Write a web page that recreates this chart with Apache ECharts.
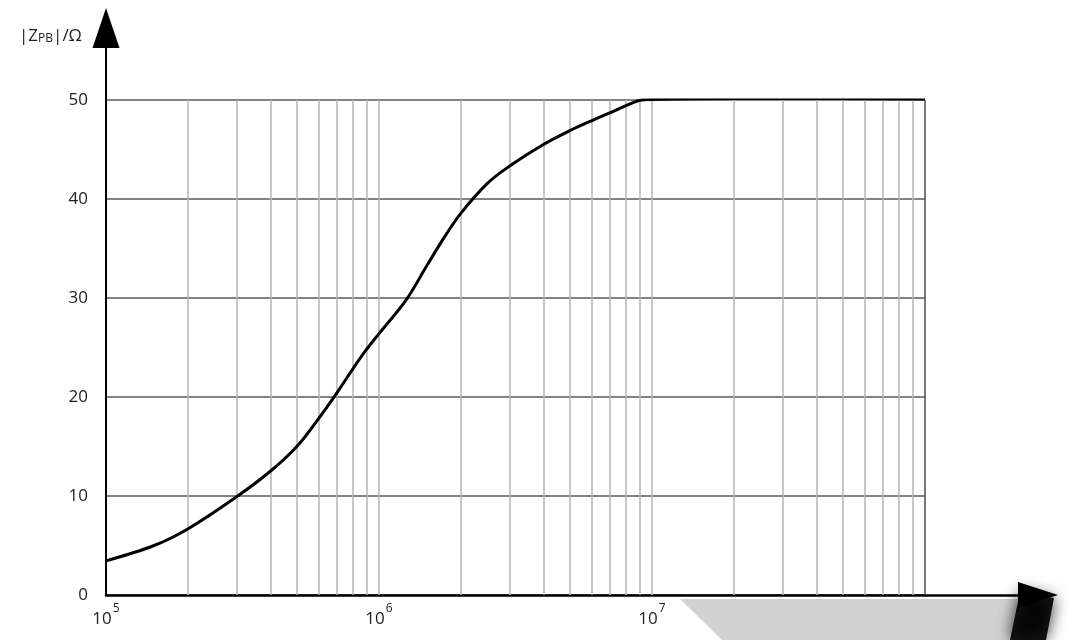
<!DOCTYPE html>
<html>
<head>
<meta charset="utf-8">
<script src="https://cdn.jsdelivr.net/npm/echarts@6/dist/echarts.min.js"></script>
<style>
html,body{margin:0;padding:0;background:#fff;}
#chart{width:1080px;height:640px;}
</style>
</head>
<body>
<div id="chart"></div>
<script>
// ---- data ----
const frequencies = [1e5, 1.5e5, 2e5, 3e5, 4e5, 5e5, 6e5, 7e5, 8e5, 9e5, 1e6, 1.25e6, 1.5e6, 1.75e6, 2e6, 2.5e6, 3e6, 4e6, 5e6, 6e6, 7e6, 8e6, 9e6, 1e7, 2e7, 5e7, 1e8];
const impedance   = [3.45, 5.0, 6.7, 9.9, 12.5, 15.0, 17.8, 20.4, 22.8, 24.8, 26.4, 29.7, 33.3, 36.3, 38.6, 41.6, 43.3, 45.5, 46.9, 47.9, 48.7, 49.4, 49.95, 50.05, 50.15, 50.15, 50.1];
const yTicks = [0, 10, 20, 30, 40, 50];
const xGridLines = [2e5,3e5,4e5,5e5,6e5,7e5,8e5,9e5,1e6,2e6,3e6,4e6,5e6,6e6,7e6,8e6,9e6,1e7,2e7,3e7,4e7,5e7,6e7,7e7,8e7,9e7];
const xRightEdge = [1e8];
const xDecadeExponents = ['5', '6', '7'];
const yTitleParts = ['|Z', 'PB', '|/Ω'];

const FONT = '"Open Sans", "Noto Sans", sans-serif';
const chart = echarts.init(document.getElementById('chart'), null, {renderer: 'canvas'});

const option = {
  animation: false,
  backgroundColor: '#ffffff',
  title: {
    text: '{a|' + yTitleParts[0] + '}{b|' + yTitleParts[1] + '}{a|' + yTitleParts[2] + '}',
    left: 14, top: 23,
    textStyle: {
      fontWeight: 'normal',
      rich: {
        a: {fontFamily: FONT, fontSize: 17, fontWeight: 'normal', color: '#222'},
        b: {fontFamily: FONT, fontSize: 12, fontWeight: 'normal', color: '#222', verticalAlign: 'bottom', padding: [5, 0, 0, 0]}
      }
    }
  },
  grid: [
    {left: 106, right: 155, top: 100, bottom: 45},
    {left: 106, right: 42, top: 28, bottom: 45}
  ],
  xAxis: [
    {
      gridIndex: 0, type: 'log', logBase: 10, min: 1e5, max: 1e8,
      axisLine: {show: false}, axisTick: {show: false}, splitLine: {show: false},
      axisLabel: {
        margin: 8,
        formatter: function (v) {
          const e = String(Math.round(Math.log10(v)));
          return xDecadeExponents.indexOf(e) >= 0 ? '{b|10}{s|' + e + '}' : '';
        },
        rich: {
          b: {fontFamily: FONT, fontSize: 17, color: '#222', verticalAlign: 'bottom', padding: [8, 0, 0, 0]},
          s: {fontFamily: FONT, fontSize: 12, color: '#222', verticalAlign: 'top', padding: [0, 0, 12, 1]}
        }
      }
    },
    {
      gridIndex: 1, type: 'value', min: 0, max: 1,
      axisLine: {show: true, lineStyle: {color: '#000', width: 2.5}, symbol: ['none', 'triangle'], symbolSize: [26, 40]},
      axisTick: {show: false}, axisLabel: {show: false}, splitLine: {show: false}
    }
  ],
  yAxis: [
    {
      gridIndex: 0, type: 'value', min: 0, max: 50, interval: 10,
      axisLine: {show: false}, axisTick: {show: false},
      axisLabel: {margin: 18, fontFamily: FONT, fontSize: 17, color: '#222'},
      splitLine: {show: true, lineStyle: {color: '#5a5a5a', width: 1.5}}
    },
    {
      gridIndex: 1, type: 'value', min: 0, max: 1,
      axisLine: {show: true, lineStyle: {color: '#000', width: 2}, symbol: ['none', 'triangle'], symbolSize: [27, 40]},
      axisTick: {show: false}, axisLabel: {show: false}, splitLine: {show: false}
    }
  ],
  series: [
    {
      type: 'line', xAxisIndex: 0, yAxisIndex: 0, z: -1,
      data: [], silent: true,
      markLine: {
        silent: true, symbol: 'none', label: {show: false},
        lineStyle: {color: '#b4b4b4', width: 1.5, type: 'solid'},
        data: xGridLines.map(v => ({xAxis: v}))
      }
    },
    {
      type: 'line', xAxisIndex: 0, yAxisIndex: 0, z: 1,
      data: [], silent: true,
      markLine: {
        silent: true, symbol: 'none', label: {show: false},
        lineStyle: {color: '#4a4a4a', width: 1.5, type: 'solid'},
        data: xRightEdge.map(v => ({xAxis: v}))
      }
    },
    {
      type: 'line', xAxisIndex: 0, yAxisIndex: 0, z: 5,
      data: frequencies.map((f, i) => [f, impedance[i]]),
      showSymbol: false, smooth: 0.35,
      lineStyle: {color: '#000', width: 3}
    }
  ],
  graphic: [
    {
      type: 'polygon', z: -10,
      shape: {points: [[680, 599], [1022, 599], [1012, 640], [722, 640]]},
      style: {fill: '#d2d2d2'}
    },
    {
      type: 'polygon', z: 10,
      shape: {points: [[1020, 592], [1054, 598], [1046, 640], [1010, 640]]},
      style: {fill: 'rgba(0,0,0,0.9)', shadowBlur: 16, shadowColor: 'rgba(0,0,0,0.9)'}
    }
  ]
};
chart.setOption(option);
</script>
</body>
</html>
